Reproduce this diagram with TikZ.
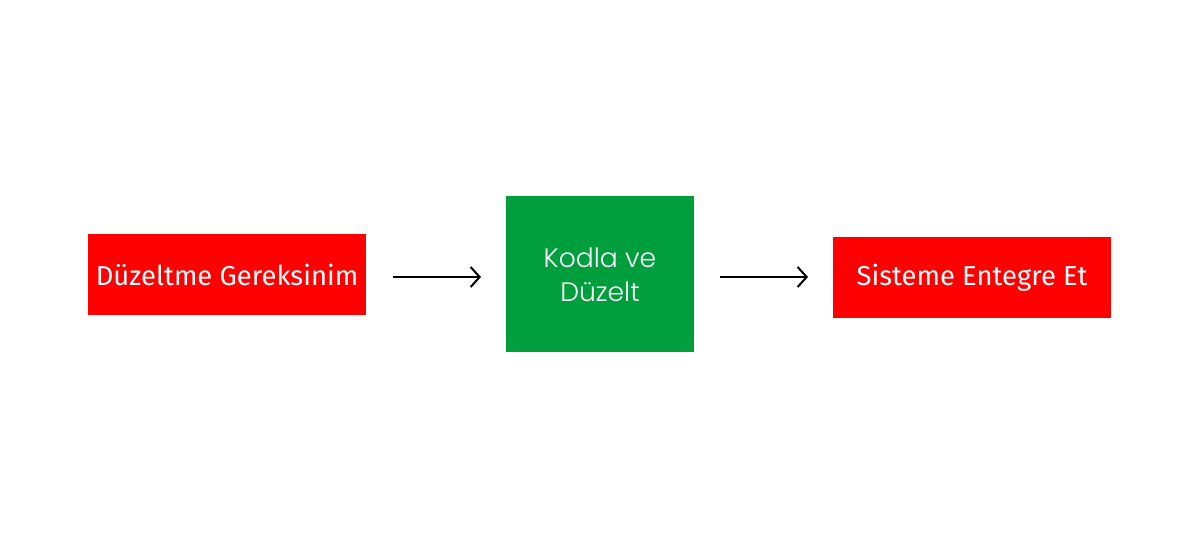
\documentclass[tikz,border=0pt]{standalone}
\usepackage{fontspec}
\usetikzlibrary{arrows.meta}
\newfontfamily\firaf{Fira Sans}
\newfontfamily\popf{Poppins Light}
\definecolor{boxred}{RGB}{255,0,0}
\definecolor{boxgreen}{RGB}{0,158,61}
\begin{document}
\begin{tikzpicture}[x=1pt,y=-1pt,
  redbox/.style={fill=boxred, text=white, inner sep=0pt, font=\firaf\fontsize{27.4}{32}\selectfont},
  greenbox/.style={fill=boxgreen, text=white, inner sep=0pt, align=center, font=\popf\fontsize{26.6}{34}\selectfont},
  flow/.style={line width=2pt, -{Straight Barb[length=9pt,width=20pt,line width=2pt]}}]
\useasboundingbox (0,0) rectangle (1200,549);
\node[redbox, minimum width=278pt, minimum height=81pt] (a) at (227,274.5) {Düzeltme Gereksinim};
\node[greenbox, minimum width=188pt, minimum height=156pt] (b) at (600,274.3) {Kodla ve\\Düzelt};
\node[redbox, minimum width=278pt, minimum height=81pt] (c) at (972,277.3) {Sisteme Entegre Et};
\coordinate (a1) at (393,277);
\coordinate (a2) at (481,277);
\coordinate (b1) at (720,277);
\coordinate (b2) at (808,277);
\draw[flow] (a1) -- (a2);
\draw[flow] (b1) -- (b2);
\end{tikzpicture}
\end{document}
